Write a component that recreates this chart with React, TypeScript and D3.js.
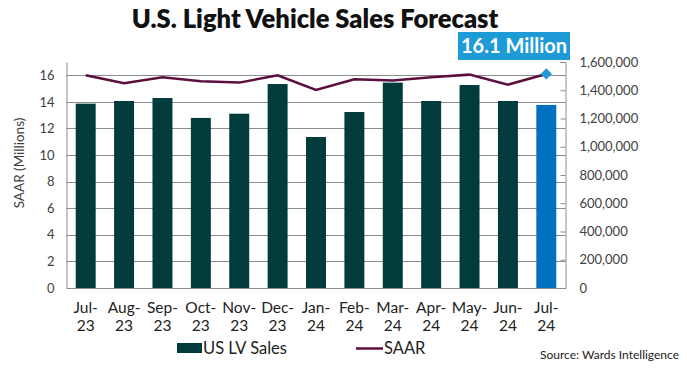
import React, { useRef, useEffect } from 'react';
import * as d3 from 'd3';

const months = ['Jul-23', 'Aug-23', 'Sep-23', 'Oct-23', 'Nov-23', 'Dec-23', 'Jan-24', 'Feb-24', 'Mar-24', 'Apr-24', 'May-24', 'Jun-24', 'Jul-24'];
const salesValues = [1305000, 1324000, 1345000, 1204000, 1234000, 1444000, 1069000, 1246000, 1454000, 1324000, 1437000, 1324000, 1296000];
const saarValues = [16.0, 15.4, 15.85, 15.55, 15.45, 16.0, 14.9, 15.7, 15.6, 15.85, 16.05, 15.3, 16.1];
const leftTicks = [0, 2, 4, 6, 8, 10, 12, 14, 16];
const rightTicks = [0, 200000, 400000, 600000, 800000, 1000000, 1200000, 1400000, 1600000];

const W = 687;
const H = 368;
const FONT = 'Lato, "DejaVu Sans", sans-serif';

const App: React.FC = () => {
  const svgRef = useRef<SVGSVGElement>(null);

  useEffect(() => {
    if (!svgRef.current) return;
    const svg = d3.select(svgRef.current);
    svg.selectAll('*').remove();

    const left = 66.5, right = 565.5, top = 62, bottom = 288;

    const x = d3.scaleBand<string>().domain(months).range([left, right]).paddingInner(0.48).paddingOuter(0.24);
    const yL = d3.scaleLinear().domain([0, 17]).range([bottom, top]);
    const yR = d3.scaleLinear().domain([0, 1600000]).range([bottom, top]);

    // title
    svg.append('text')
      .attr('x', 315).attr('y', 28)
      .attr('text-anchor', 'middle')
      .style('font-family', FONT).style('font-weight', 800).style('font-size', '25.5px')
      .attr('fill', '#111')
      .text('U.S. Light Vehicle Sales Forecast');

    // gridlines
    svg.append('g').selectAll('line')
      .data(leftTicks.filter(d => d > 0))
      .enter().append('line')
      .attr('x1', left).attr('x2', right)
      .attr('y1', d => Math.round(yL(d)) + 0.5).attr('y2', d => Math.round(yL(d)) + 0.5)
      .attr('stroke', '#8c8c8c').attr('stroke-width', 1);

    // left axis
    const gl = svg.append('g').attr('transform', `translate(${left},0)`)
      .call(d3.axisLeft(yL).tickValues(leftTicks).tickSize(0).tickPadding(12));
    gl.select('.domain').attr('stroke', '#8c8c8c');
    gl.selectAll('text').style('font-family', FONT).style('font-size', '13px').attr('fill', '#404040');

    // right axis
    const gr = svg.append('g').attr('transform', `translate(${right},0)`)
      .call(d3.axisRight(yR).tickValues(rightTicks).tickSize(-5).tickPadding(14).tickFormat(d3.format(',')));
    gr.select('.domain').attr('stroke', '#8c8c8c');
    gr.selectAll('line').attr('stroke', '#8c8c8c');
    gr.selectAll('text').style('font-family', FONT).style('font-size', '13px').attr('fill', '#404040');

    // bottom axis line
    svg.append('line')
      .attr('x1', left).attr('x2', right).attr('y1', bottom + 0.5).attr('y2', bottom + 0.5)
      .attr('stroke', '#8c8c8c');

    // y label
    svg.append('text')
      .attr('transform', `translate(24,${(top + bottom) / 2 - 12}) rotate(-90)`)
      .attr('text-anchor', 'middle')
      .style('font-family', FONT).style('font-size', '13.5px')
      .attr('fill', '#404040')
      .text('SAAR (Millions)');

    // bars
    svg.append('g').selectAll('rect')
      .data(salesValues)
      .enter().append('rect')
      .attr('x', (d, i) => x(months[i]) as number)
      .attr('width', x.bandwidth())
      .attr('y', d => yR(d))
      .attr('height', d => bottom - yR(d))
      .attr('fill', (d, i) => (i === months.length - 1 ? '#0070c0' : '#023b3c'));

    // SAAR line
    const line = d3.line<number>()
      .x((d, i) => (x(months[i]) as number) + x.bandwidth() / 2)
      .y(d => yL(d));
    svg.append('path')
      .datum(saarValues)
      .attr('fill', 'none')
      .attr('stroke', '#5c0f3f')
      .attr('stroke-width', 2.5)
      .attr('d', line);

    // last point marker
    const lastI = saarValues.length - 1;
    const mx = (x(months[lastI]) as number) + x.bandwidth() / 2;
    const my = yL(saarValues[lastI]);
    svg.append('rect')
      .attr('x', mx - 4).attr('y', my - 4).attr('width', 8).attr('height', 8)
      .attr('transform', `rotate(45,${mx},${my})`)
      .attr('fill', '#1f9ad6');

    // callout
    svg.append('rect')
      .attr('x', 458).attr('y', 32).attr('width', 112).attr('height', 28)
      .attr('fill', '#1e9bd7');
    svg.append('text')
      .attr('x', 514).attr('y', 53)
      .attr('text-anchor', 'middle')
      .style('font-family', FONT).style('font-weight', 700).style('font-size', '20px')
      .attr('fill', '#fff')
      .text(`${saarValues[lastI]} Million`);

    // x labels
    const xl = svg.append('g').selectAll('text')
      .data(months)
      .enter().append('text')
      .attr('x', d => (x(d) as number) + x.bandwidth() / 2)
      .attr('text-anchor', 'middle')
      .style('font-family', FONT).style('font-size', '15.5px')
      .attr('fill', '#222');
    xl.append('tspan').attr('x', d => (x(d) as number) + x.bandwidth() / 2).attr('y', 313).text(d => d.split('-')[0] + '-');
    xl.append('tspan').attr('x', d => (x(d) as number) + x.bandwidth() / 2).attr('y', 331).text(d => d.split('-')[1]);

    // legend
    const lg = svg.append('g');
    lg.append('rect').attr('x', 177).attr('y', 343).attr('width', 25).attr('height', 10).attr('fill', '#023b3c');
    lg.append('text').attr('x', 203).attr('y', 354)
      .style('font-family', FONT).style('font-size', '16.5px').attr('fill', '#222').text('US LV Sales');
    lg.append('line').attr('x1', 356).attr('x2', 383).attr('y1', 348.5).attr('y2', 348.5)
      .attr('stroke', '#5c0f3f').attr('stroke-width', 2.5);
    lg.append('text').attr('x', 384).attr('y', 354)
      .style('font-family', FONT).style('font-size', '16.5px').attr('fill', '#222').text('SAAR');

    // source
    svg.append('text')
      .attr('x', 679).attr('y', 359)
      .attr('text-anchor', 'end')
      .style('font-family', FONT).style('font-size', '12px').attr('fill', '#222')
      .text('Source: Wards Intelligence');
  }, []);

  return (
    <svg
      ref={svgRef}
      width={W}
      height={H}
      viewBox={`0 0 ${W} ${H}`}
      style={{ position: 'absolute', left: 0, top: 0, background: '#fff' }}
    />
  );
};

export default App;
